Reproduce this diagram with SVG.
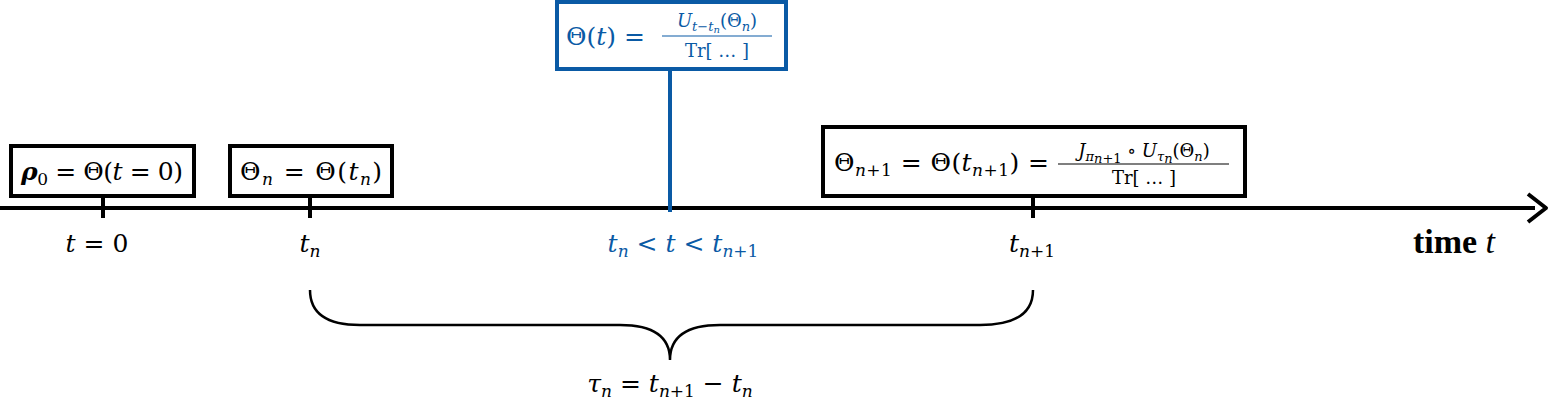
<svg xmlns="http://www.w3.org/2000/svg" width="1550" height="403" viewBox="0 0 1550 403">
<style>
text{font-family:"DejaVu Serif","Liberation Serif",serif;font-size:25px;fill:#000}
.i{font-style:italic}
.s{font-size:17px}
.ss{font-size:13px}
.f{font-size:18px}
.big{font-size:34px}
.b{fill:#0a5aa5}
.box{fill:#fff;stroke:#000;stroke-width:4}
.bbox{fill:#fff;stroke:#0a5aa5;stroke-width:4}
</style>
<g id="connectors" fill="none">
<line x1="0" y1="208" x2="1535" y2="208" stroke="#000" stroke-width="4"/>
<path d="M1528,194 L1546,208 L1528,222" stroke="#000" stroke-width="4" stroke-linejoin="round"/>
<line x1="103" y1="198" x2="103" y2="218" stroke="#000" stroke-width="4"/>
<line x1="310" y1="196" x2="310" y2="218" stroke="#000" stroke-width="4"/>
<line x1="1033" y1="196" x2="1033" y2="218" stroke="#000" stroke-width="4"/>
<line x1="670" y1="68" x2="670" y2="212" stroke="#0a5aa5" stroke-width="4"/>
<path d="M310,290 Q310,325 360,325 L620,325 Q670,325 670,360 Q670,325 720,325 L980,325 Q1033,325 1033,290" stroke="#000" stroke-width="2.5"/>
</g>
<g id="box-rho0"><rect class="box" x="11" y="146" width="183" height="50"/>
<text x="102" y="180" text-anchor="middle" textLength="162"><tspan font-weight="bold" class="i">ρ</tspan><tspan class="s" dy="5">0</tspan><tspan dy="-5"> = Θ(</tspan><tspan class="i">t</tspan> = 0)</text></g>
<g id="box-thetan"><rect class="box" x="230" y="146" width="162" height="50"/>
<text x="311" y="180" text-anchor="middle" textLength="142">Θ<tspan class="s i" dy="5">n</tspan><tspan dy="-5"> = Θ(</tspan><tspan class="i">t</tspan><tspan class="s i" dy="5">n</tspan><tspan dy="-5">)</tspan></text></g>
<g id="box-thetan1"><rect class="box" x="823" y="127" width="422" height="69"/>
<text x="834" y="171" textLength="215">Θ<tspan class="s i" dy="5">n</tspan><tspan class="s" dy="0">+1</tspan><tspan dy="-5"> = Θ(</tspan><tspan class="i">t</tspan><tspan class="s i" dy="5">n</tspan><tspan class="s">+1</tspan><tspan dy="-5">) =</tspan></text>
<text x="1144" y="157" text-anchor="middle" class="f"><tspan class="i">J</tspan><tspan class="ss i" dy="4">π</tspan><tspan class="ss i" dy="2">n</tspan><tspan class="ss">+1</tspan><tspan dy="-6"> ∘ </tspan><tspan class="i">U</tspan><tspan class="ss i" dy="4">τ</tspan><tspan class="ss i" dy="2">n</tspan><tspan dy="-6">(Θ</tspan><tspan class="ss i" dy="4">n</tspan><tspan dy="-4">)</tspan></text>
<line x1="1058" y1="164" x2="1229" y2="164" stroke="#000" stroke-width="1.2"/>
<text x="1144" y="184" text-anchor="middle" class="f">Tr[ … ]</text></g>
<g id="box-thetat"><rect class="bbox" x="557" y="2" width="229" height="67"/>
<text x="566" y="45" class="b">Θ(<tspan class="i">t</tspan>) =</text>
<text x="717" y="27" text-anchor="middle" class="f b"><tspan class="i">U</tspan><tspan class="ss i" dy="4">t−t</tspan><tspan class="i" dy="2" style="font-size:10px">n</tspan><tspan dy="-6">(Θ</tspan><tspan class="ss i" dy="4">n</tspan><tspan dy="-4">)</tspan></text>
<line x1="662" y1="36" x2="772" y2="36" stroke="#0a5aa5" stroke-width="1.2"/>
<text x="717" y="57" text-anchor="middle" class="f b">Tr[ … ]</text></g>
<g id="labels">
<text x="97" y="252" text-anchor="middle"><tspan class="i">t</tspan> = 0</text>
<text x="310" y="252" text-anchor="middle"><tspan class="i">t</tspan><tspan class="s i" dy="5">n</tspan></text>
<text x="683" y="252" text-anchor="middle" class="b"><tspan class="i">t</tspan><tspan class="s i" dy="5">n</tspan><tspan dy="-5"> &lt; </tspan><tspan class="i">t</tspan> &lt; <tspan class="i">t</tspan><tspan class="s i" dy="5">n</tspan><tspan class="s">+1</tspan></text>
<text x="1032" y="252" text-anchor="middle"><tspan class="i">t</tspan><tspan class="s i" dy="5">n</tspan><tspan class="s">+1</tspan></text>
<text x="1454" y="253" text-anchor="middle" class="big" style="font-family:'Liberation Serif',serif"><tspan font-weight="bold">time</tspan> <tspan class="i">t</tspan></text>
<text x="670" y="392" text-anchor="middle"><tspan class="i">τ</tspan><tspan class="s i" dy="5">n</tspan><tspan dy="-5"> = </tspan><tspan class="i">t</tspan><tspan class="s i" dy="5">n</tspan><tspan class="s">+1</tspan><tspan dy="-5"> − </tspan><tspan class="i">t</tspan><tspan class="s i" dy="5">n</tspan></text>
</g>
</svg>
